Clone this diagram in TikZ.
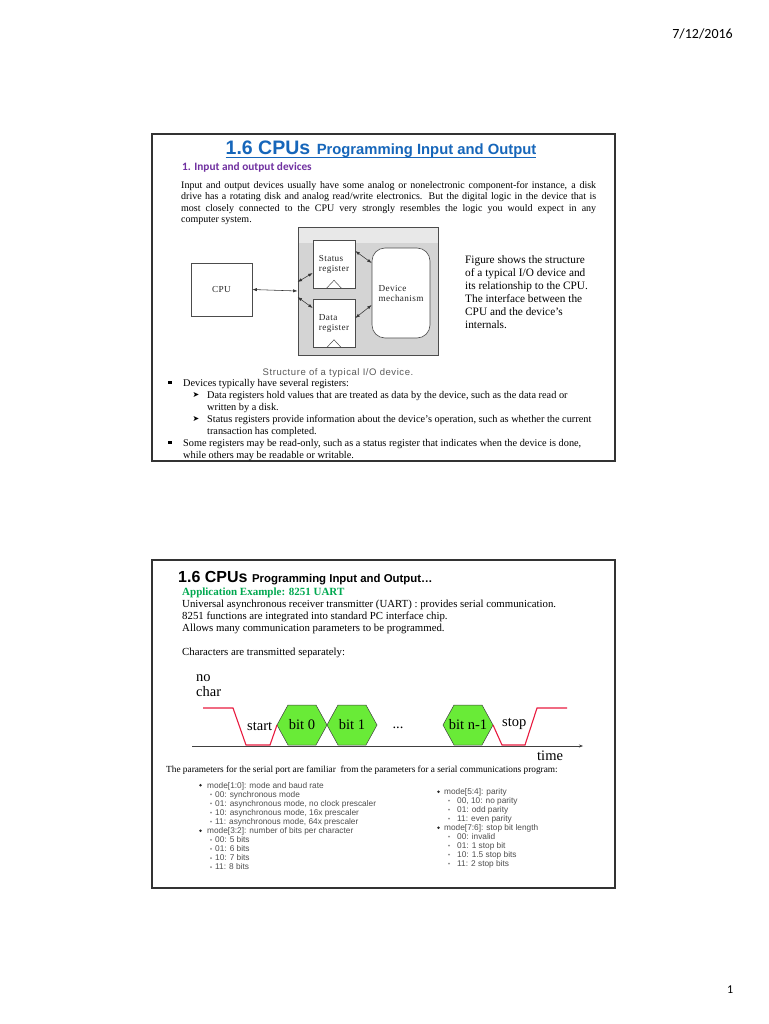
\documentclass[tikz,border=0pt]{standalone}
\usepackage{fontspec}
\setmainfont{Liberation Serif}
\newfontfamily\arialfont{Liberation Sans}
\newfontfamily\calfont{Carlito}
\newfontfamily\figfont[LetterSpace=4]{Liberation Serif}
\newfontfamily\capfont[LetterSpace=6]{Liberation Sans}
\newfontfamily\symfont{DejaVu Sans}
\usetikzlibrary{arrows.meta, positioning}
\definecolor{titleBlue}{RGB}{22,102,186}
\definecolor{headPurple}{RGB}{112,48,160}
\definecolor{appGreen}{RGB}{0,168,80}
\definecolor{bitGreen}{RGB}{105,235,55}
\definecolor{signalRed}{RGB}{232,28,64}
\definecolor{boxGray}{RGB}{212,212,212}
\definecolor{stripGray}{RGB}{232,232,232}
\definecolor{listGray}{RGB}{78,78,78}
\newcommand{\fsz}[2]{\fontsize{#1}{#2}\selectfont}
\newcommand{\jline}[1]{\makebox[415pt][s]{#1}}

\begin{document}
\begin{tikzpicture}[x=1pt, y=-1pt,
    slide/.style={draw=black!80, line width=1.2pt},
    % multi-line nodes sit on the baseline of their last line
    bodytext/.style={inner sep=0pt, anchor=base west, align=left, font=\fsz{10}{11.5}},
    listtext/.style={inner sep=0pt, anchor=base west, align=left, font=\fsz{10.3}{12}},
    uarttext/.style={inner sep=0pt, anchor=base west, align=left, font=\fsz{10.8}{12}},
    figlabel/.style={inner sep=0pt, align=left, text=black!85, font=\figfont\fsz{9.2}{10}},
    cpubox/.style={figlabel, draw=black!70, fill=white, line width=0.6pt,
      minimum width=61pt, minimum height=53pt},
    iobox/.style={draw=black!70, fill=boxGray, line width=0.8pt,
      minimum width=140pt, minimum height=128pt,
      path picture={\fill[stripGray] (path picture bounding box.north west)
        rectangle ([yshift=-16pt]path picture bounding box.north east);}},
    regbox/.style={figlabel, draw=black!70, fill=white, line width=0.6pt,
      minimum width=42pt, minimum height=48pt},
    mechbox/.style={figlabel, draw=black!70, fill=white, line width=0.6pt,
      rounded corners=13pt, minimum width=58pt, minimum height=90pt},
    ioarrow/.style={{Latex[length=4.5pt,width=3.2pt]}-{Latex[length=4.5pt,width=3.2pt]},
      black!80, line width=0.55pt},
    clock/.style={draw=black!70, line width=0.5pt},
    sqbullet/.style={fill=black, inner sep=0pt, minimum size=3.3pt},
    arrbullet/.style={inner sep=0pt, font=\symfont\fsz{8}{9}},
    bitcell/.style={fill=bitGreen, draw=black!75, line width=0.5pt},
    bitlabel/.style={inner sep=0pt, font=\fsz{14.5}{16}},
    wave/.style={signalRed, line width=1.1pt},
    axis/.style={-{Stealth[length=4pt,width=3pt]}, black!75, line width=0.6pt},
    modetext/.style={inner sep=0pt, anchor=base west, text=listGray,
      font=\arialfont\fsz{8.3}{9}},
    dotbullet/.style={circle, fill=black!85, inner sep=0pt, minimum size=2.6pt},
    subbullet/.style={circle, fill=black!45, inner sep=0pt, minimum size=2pt},
  ]
  \fill[white] (0,0) rectangle (768,1024);
  \useasboundingbox (0,0) rectangle (768,1024);

  \node[anchor=base east, inner sep=0pt, font=\calfont\fsz{14}{16}] (date) at (733,39) {7/12/2016};
  \node[anchor=base east, inner sep=0pt, font=\calfont\fsz{12}{14}] (pagenum) at (733.5,993) {1};

  % Slide 1
  \draw[slide] (152,134) rectangle (615,461);
  \node[anchor=base, inner sep=0pt, text=titleBlue, font=\arialfont\bfseries\fsz{14.8}{16}] (title1) at (381,155)
    {{\fsz{19.5}{21}1.6 CPUs}\hspace{6.5pt}Programming Input and Output};
  \draw[titleBlue, line width=1.3pt] ([yshift=-2.3pt]title1.base west) -- ([yshift=-2.3pt]title1.base east);
  \node[anchor=base west, inner sep=0pt, text=headPurple, font=\calfont\bfseries\fsz{11.3}{13}] (head1) at (182,171)
    {1. Input and output devices};
  \node[bodytext] (intro) at (181,222.5) {%
    \jline{Input and output devices usually have some analog or nonelectronic component-for instance, a disk}\\
    \jline{drive has a rotating disk and analog read/write electronics. But the digital logic in the device that is}\\
    \jline{most closely connected to the CPU very strongly resembles the logic you would expect in any}\\
    computer system.};

  % I/O device figure
  \node[cpubox] (cpu) at (221.5,289.5) {CPU};
  \node[iobox] (iodev) at (368,291) {};
  \node[regbox] (status) at (334,264) {Status\\register};
  \node[regbox] (data) at (334,323.5) {Data\\register};
  \node[mechbox] (mech) at (401,293) {Device\\mechanism};
  \foreach \r in {status, data} {
    \draw[clock] ([xshift=-7.5pt]\r.south) -- ([yshift=8pt]\r.south) -- ([xshift=7.5pt]\r.south);
  }
  \draw[ioarrow] (cpu.east) -- (iodev.west);
  \draw[ioarrow] ([yshift=9pt]iodev.west) -- ([yshift=-9pt]status.west);
  \draw[ioarrow] ([yshift=-6pt]iodev.west) -- ([yshift=15.5pt]data.west);
  \draw[ioarrow] ([yshift=13pt]status.east) -- ([yshift=30pt]mech.west);
  \draw[ioarrow] ([yshift=5.5pt]data.east) -- ([yshift=-12pt]mech.west);
  \node[anchor=base, inner sep=0pt, text=black!65, font=\capfont\fsz{9.5}{11}] (caption) at (338,375)
    {Structure of a typical I/O device.};
  \node[anchor=base west, inner sep=0pt, align=left, font=\fsz{11.3}{13}] (figdesc) at (465,328)
    {Figure shows the structure\\of a typical I/O device and\\its relationship to the CPU.\\The interface between the\\CPU and the device’s\\internals.};

  % Register bullets
  \node[sqbullet] (sq1) at (170,382.5) {};
  \node[listtext] (item1) at (183,386) {Devices typically have several registers:};
  \node[arrbullet] (ar1) at (196,394.5) {➤};
  \node[listtext] (sub1) at (207,410)
    {Data registers hold values that are treated as data by the device, such as the data read or\\written by a disk.};
  \node[arrbullet] (ar2) at (196,418.5) {➤};
  \node[listtext] (sub2) at (207,434)
    {Status registers provide information about the device’s operation, such as whether the current\\transaction has completed.};
  \node[sqbullet] (sq2) at (170,442.5) {};
  \node[listtext] (item2) at (183,458)
    {Some registers may be read-only, such as a status register that indicates when the device is done,\\while others may be readable or writable.};

  % Slide 2
  \draw[slide] (152,560) rectangle (615,888);
  \node[anchor=base west, inner sep=0pt, font=\arialfont\bfseries\fsz{11.4}{13}] (title2) at (178,582)
    {{\fsz{16}{18}1.6 CPUs}\hspace{4.5pt}Programming Input and Output…};
  \node[anchor=base west, inner sep=0pt, text=appGreen, font=\bfseries\fsz{11}{12}] (app) at (182,595)
    {Application Example: 8251 UART};
  \node[uarttext] (uart) at (182,631)
    {Universal asynchronous receiver transmitter (UART) : provides serial communication.\\
     8251 functions are integrated into standard PC interface chip.\\
     Allows many communication parameters to be programmed.};
  \node[uarttext] (chars) at (182,655) {Characters are transmitted separately:};

  % Serial frame
  \node[anchor=base west, inner sep=0pt, align=left, font=\fsz{14.5}{15}] (nochar) at (196,696) {no\\char};
  \coordinate (t0) at (192,746);
  \coordinate (t1) at (583,746);
  \draw[axis] (t0) -- (t1);
  \foreach \cx/\lbl/\nm in {302/bit 0/bit0, 352/bit 1/bit1, 468/bit n-1/bitn} {
    \draw[bitcell] (\cx-25,725) -- ++(11,-20) -- ++(28,0) -- ++(11,20) -- ++(-11,20) -- ++(-28,0) -- cycle;
    \node[bitlabel] (\nm) at (\cx,725) {\lbl};
  }
  \draw[wave] (203,708) -- (233,708) -- (246,745) -- (270,745) -- (277,725);
  \draw[wave] (493,725) -- (502,745) -- (525,745) -- (537,708) -- (567,708);
  \node[anchor=base west, inner sep=0pt, font=\fsz{14.5}{16}] (start) at (247,730.5) {start};
  \node[anchor=base west, inner sep=0pt, font=\fsz{14.5}{16}] (stop) at (502,726) {stop};
  \node[anchor=base, inner sep=0pt, font=\fsz{14.5}{16}] (dots) at (398,728.5) {...};
  \node[anchor=base west, inner sep=0pt, font=\fsz{14.5}{16}] (time) at (537,760.5) {time};

  \node[anchor=base west, inner sep=0pt, font=\fsz{9.3}{10}] (params) at (166,772)
    {The parameters for the serial port are familiar\ \ from the parameters for a serial communications program:};

  % Mode register fields
  \foreach \txt/\lvl [count=\i from 0] in {mode[1:0]: mode and baud rate/0, 00: synchronous mode/1,
      {01: asynchronous mode, no clock prescaler}/1, {10: asynchronous mode, 16x prescaler}/1,
      {11: asynchronous mode, 64x prescaler}/1, mode[3:2]: number of bits per character/0,
      00: 5 bits/1, 01: 6 bits/1, 10: 7 bits/1, 11: 8 bits/1} {
    \pgfmathsetmacro{\yy}{788+9.1*\i}
    \ifnum\lvl=0
      \node[dotbullet] (lb\i) at (200.5,\yy-2.8) {};
      \node[modetext] (lm\i) at (207,\yy) {\txt};
    \else
      \node[subbullet] (lb\i) at (211,\yy-2.8) {};
      \node[modetext] (lm\i) at (215,\yy) {\txt};
    \fi
  }
  \foreach \txt/\lvl [count=\i from 0] in {mode[5:4]: parity/0, {00, 10: no parity}/1,
      01: odd parity/1, 11: even parity/1, mode[7:6]: stop bit length/0, 00: invalid/1,
      01: 1 stop bit/1, 10: 1.5 stop bits/1, 11: 2 stop bits/1} {
    \pgfmathsetmacro{\yy}{794.5+9*\i}
    \ifnum\lvl=0
      \node[dotbullet] (rb\i) at (438.5,\yy-2.8) {};
      \node[modetext] (rm\i) at (444,\yy) {\txt};
    \else
      \node[subbullet] (rb\i) at (449,\yy-2.8) {};
      \node[modetext] (rm\i) at (457,\yy) {\txt};
    \fi
  }
\end{tikzpicture}
\end{document}
